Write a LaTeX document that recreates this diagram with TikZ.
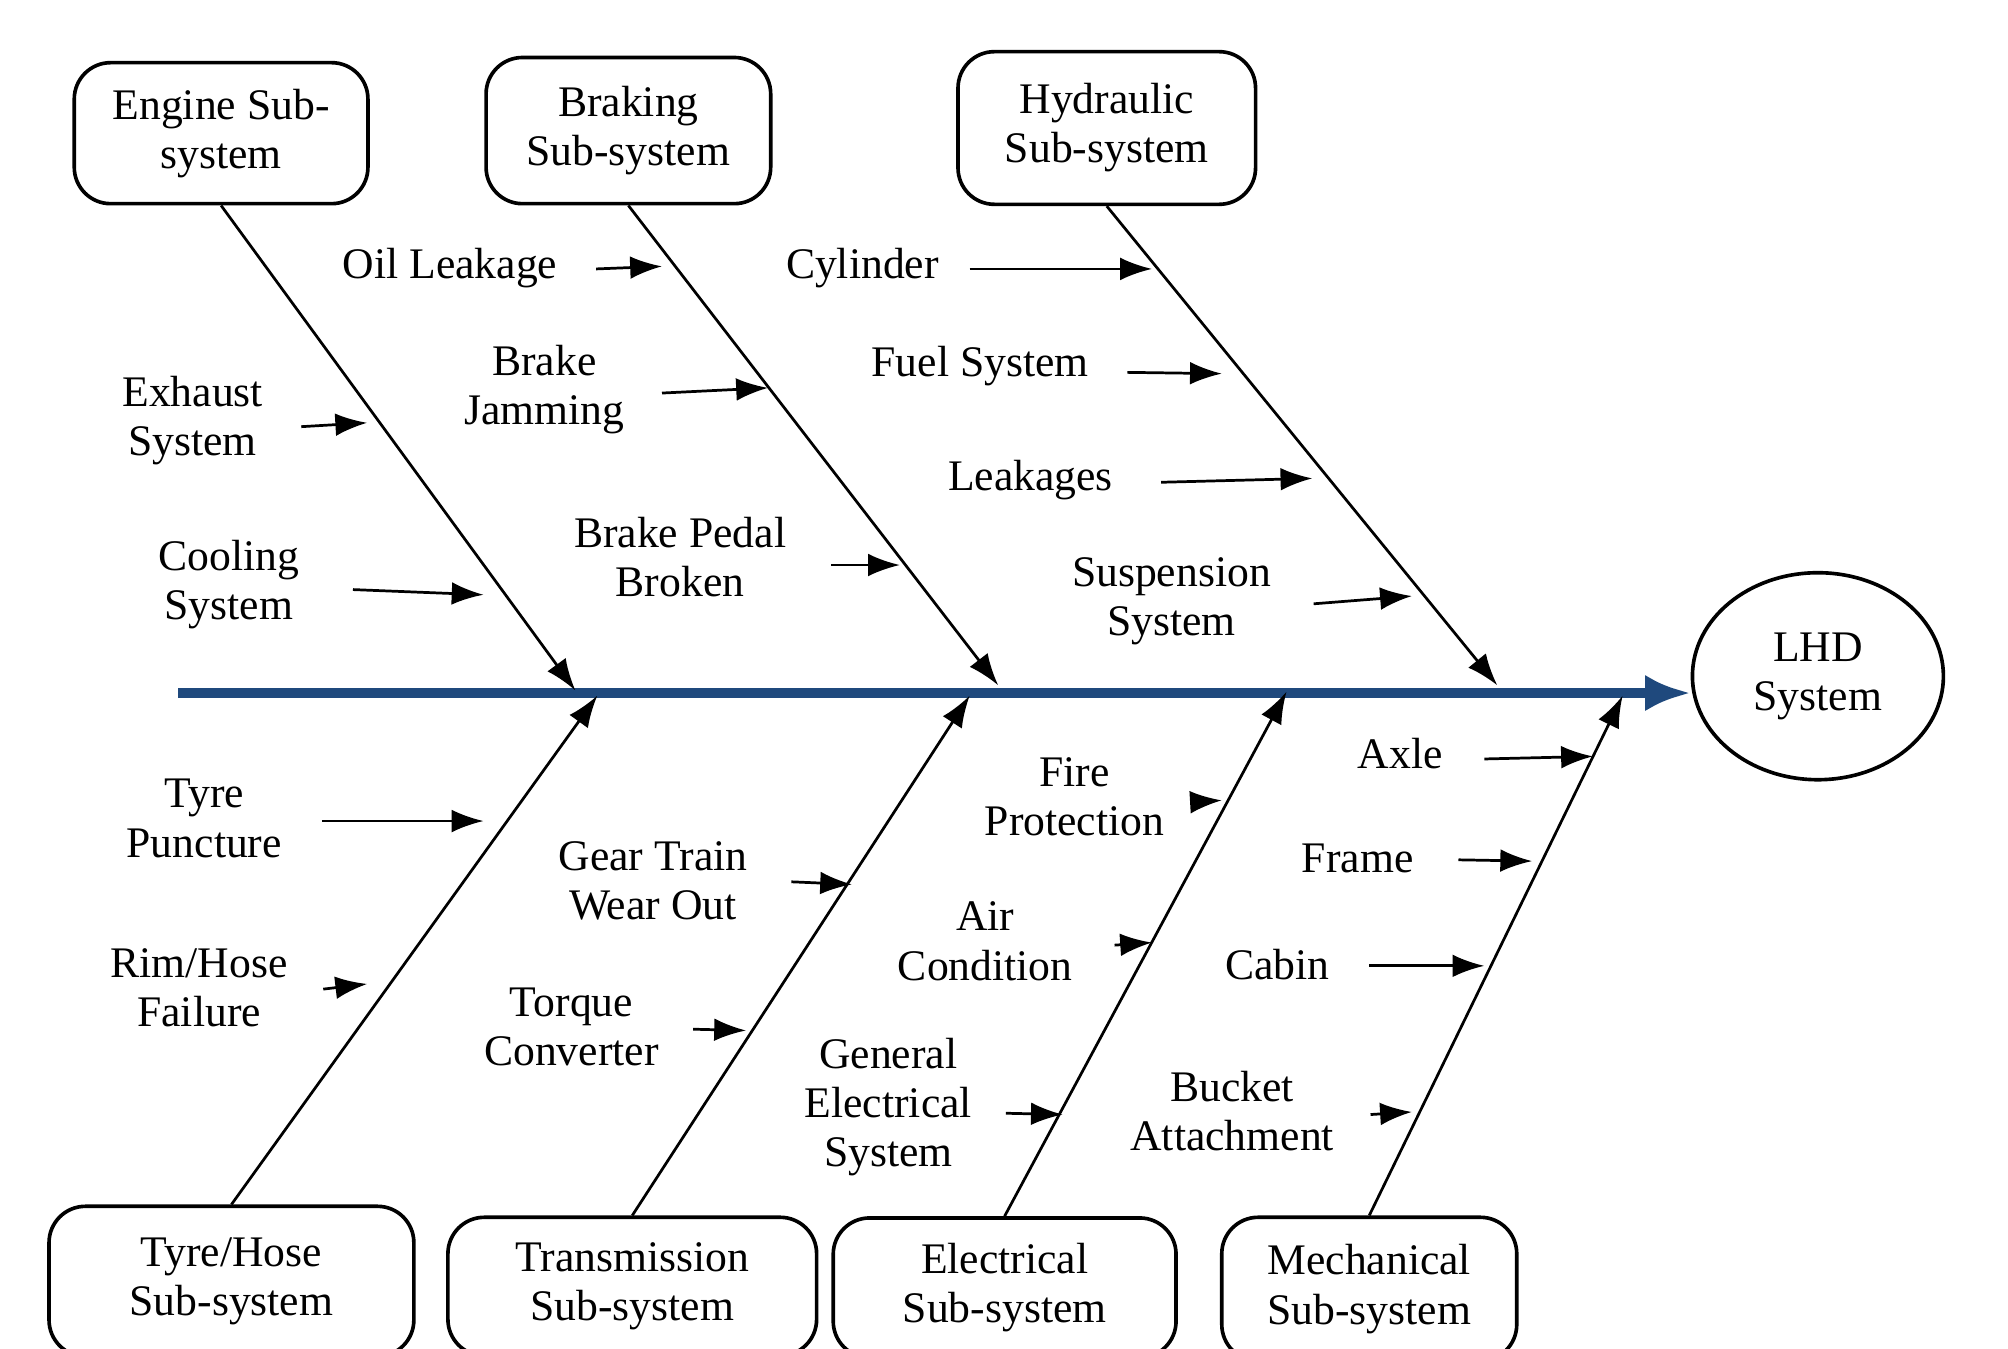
\documentclass[tikz,border=0pt]{standalone}
\usepackage{fontspec}
\setmainfont{Liberation Serif}
\usetikzlibrary{arrows.meta,shapes.geometric}
\definecolor{spine}{RGB}{31,73,125}
\begin{document}
\begin{tikzpicture}[x=0.01cm,y=-0.01cm,
  box/.style={draw,rounded corners=8pt,thick,align=center,font=\fontsize{9.6}{10.8}\selectfont},
  lbl/.style={align=center,font=\fontsize{9.6}{10.8}\selectfont},
  cause/.style={semithick,-{Latex[length=7pt,width=5pt]}}]
\useasboundingbox (0,0) rectangle (1553,1043);
% effect
\node[draw,thick,ellipse,minimum width=1.94cm,minimum height=1.6cm,lbl] (lhd) at (1406,523) {LHD\\System};
\coordinate (tail) at (138,536);
\draw[spine,line width=2.2pt,-{Latex[length=10pt,width=8pt]}] (tail) -- (lhd.west |- tail);
% category boxes
\node[box,minimum width=2.27cm,minimum height=1.09cm] (eng) at (171,103) {Engine Sub-\\system};
\node[box,minimum width=2.2cm,minimum height=1.13cm] (brk) at (486,101) {Braking\\Sub-system};
\node[box,minimum width=2.3cm,minimum height=1.18cm] (hyd) at (856,99) {Hydraulic\\Sub-system};
\node[box,minimum width=2.82cm,minimum height=1.16cm] (tyr) at (179,991) {Tyre/Hose\\Sub-system};
\node[box,minimum width=2.85cm,minimum height=1.07cm] (trn) at (489,995) {Transmission\\Sub-system};
\node[box,minimum width=2.65cm,minimum height=1.08cm] (ele) at (777,996) {Electrical\\Sub-system};
\node[box,minimum width=2.28cm,minimum height=1.11cm] (mec) at (1059,997) {Mechanical\\Sub-system};
% bones
\coordinate (s1) at (445,534); \coordinate (s2) at (772,530); \coordinate (s3) at (1158,530);
\coordinate (s4) at (462,538); \coordinate (s5) at (750,538); \coordinate (s6) at (995,535); \coordinate (s7) at (1255,538);
\draw[cause] (eng.south) -- (s1);
\draw[cause] (brk.south) -- (s2);
\draw[cause] (hyd.south) -- (s3);
\draw[cause] (tyr.north) -- (s4);
\draw[cause] (trn.north) -- (s5);
\draw[cause] (ele.north) -- (s6);
\draw[cause] (mec.north) -- (s7);
% causes
\foreach \t/\x/\y/\ax/\ay/\bx/\by in {
  Oil Leakage/348/207/461/208/512/206,
  Cylinder/667/207/750/208/891/208,
  Exhaust\\System/149/325/233/330/284/327,
  Brake\\Jamming/421/301/512/304/594/300,
  Fuel System/758/283/872/288/945/289,
  Leakages/797/371/898/373/1015/370,
  Cooling\\System/177/452/273/456/374/460,
  Brake Pedal\\Broken/526/431/643/437/696/437,
  Suspension\\System/906/465/1016/467/1092/461,
  Tyre\\Puncture/158/633/249/635/374/635,
  {Rim/Hose\\Failure}/154/764/250/765/284/761,
  Gear Train\\Wear Out/505/681/612/682/659/684,
  Torque\\Converter/442/794/536/796/577/797,
  Fire\\Protection/831/616/928/620/945/619,
  Air\\Condition/762/728/862/731/891/729,
  General\\Electrical\\System/687/856/778/861/822/862,
  Axle/1083/583/1148/587/1232/585,
  Frame/1050/664/1128/665/1185/666,
  Cabin/988/746/1059/747/1148/747,
  Bucket\\Attachment/953/859/1060/862/1092/860}
{
  \node[lbl] at (\x,\y) {\t};
  \draw[cause] (\ax,\ay) -- (\bx,\by);
}
\end{tikzpicture}
\end{document}
